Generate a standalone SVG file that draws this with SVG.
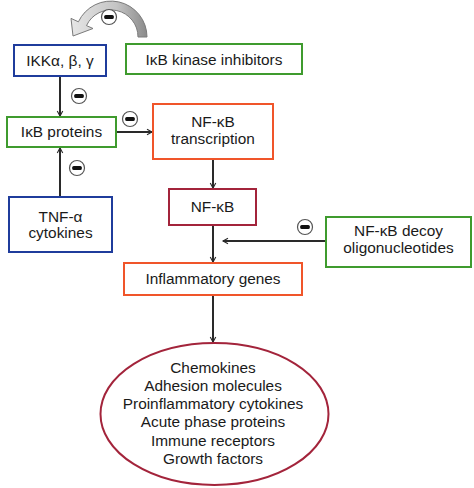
<svg xmlns="http://www.w3.org/2000/svg" width="474" height="488" viewBox="0 0 474 488">
<style>
text{font-family:"Liberation Sans",Arial,sans-serif;font-size:15.4px;fill:#1a1a1a;text-anchor:middle}
.box{fill:#fff;stroke-width:2}
.blue{stroke:#1f3c9c}
.green{stroke:#3f9b2e}
.orange{stroke:#f0552a}
.dred{stroke:#a3243b}
.conn{stroke:#2a2a2a;stroke-width:2;fill:none;marker-end:url(#ah)}
</style>
<defs>
<marker id="ah" viewBox="0 0 12 12" refX="11" refY="6" markerWidth="6" markerHeight="6" markerUnits="userSpaceOnUse" orient="auto" overflow="visible">
<path d="M1,0.5 L11,6 L1,11.5" fill="none" stroke="#2a2a2a" stroke-width="2.2"/>
</marker>
<linearGradient id="gg" x1="0" y1="0" x2="1" y2="0">
<stop offset="0" stop-color="#e6e6e6"/>
<stop offset="0.6" stop-color="#c4c4c4"/>
<stop offset="1" stop-color="#8a8a8a"/>
</linearGradient>
<g id="minus">
<circle r="7.5" fill="#fff" stroke="#555" stroke-width="1.2"/>
<rect x="-4.8" y="-1.9" width="9.6" height="3.8" rx="1.5" fill="#111"/>
</g>
</defs>
<rect width="474" height="488" fill="#fff"/>

<g id="feedback">
<path d="M147,37 A36,36 0 0 0 78.4,21.8 L71,18.4 L73,36 L93,28.5 L86.5,25.6 A27,27 0 0 1 138,37 Z" fill="url(#gg)" stroke="#7a7a7a" stroke-width="1"/>
</g>

<g id="connectors">
<line class="conn" x1="60" y1="76" x2="60" y2="116"/>
<line class="conn" x1="116" y1="132" x2="152" y2="132"/>
<line class="conn" x1="60" y1="197" x2="60" y2="148"/>
<line class="conn" x1="213" y1="159" x2="213" y2="188"/>
<line class="conn" x1="213" y1="225" x2="213" y2="262"/>
<line class="conn" x1="326" y1="241" x2="223" y2="241"/>
<line class="conn" x1="213" y1="295" x2="213" y2="342"/>
</g>

<g id="inhibition-marks">
<use href="#minus" x="109" y="17"/>
<use href="#minus" x="79" y="96"/>
<use href="#minus" x="130" y="119"/>
<use href="#minus" x="77" y="168"/>
<use href="#minus" x="305" y="227"/>
</g>

<g id="ikk">
<rect class="box blue" x="14" y="45" width="92" height="31"/>
<text x="60" y="66">IKKα, β, γ</text>
</g>
<g id="ikb-kinase-inhibitors">
<rect class="box green" x="126" y="44" width="176" height="30"/>
<text x="214" y="65">IκB kinase inhibitors</text>
</g>
<g id="ikb-proteins">
<rect class="box green" x="7" y="117" width="109" height="30"/>
<text x="61.5" y="137">IκB proteins</text>
</g>
<g id="nfkb-transcription">
<rect class="box orange" x="153" y="104" width="120" height="55"/>
<text x="213" y="127">NF-κB</text>
<text x="213" y="144">transcription</text>
</g>
<g id="tnf">
<rect class="box blue" x="9" y="197" width="103" height="55"/>
<text x="60.5" y="222">TNF-α</text>
<text x="60.5" y="238">cytokines</text>
</g>
<g id="nfkb">
<rect class="box dred" x="169" y="189" width="87" height="36"/>
<text x="212.5" y="212">NF-κB</text>
</g>
<g id="decoy">
<rect class="box green" x="326" y="217" width="145" height="50"/>
<text x="398.5" y="236">NF-κB decoy</text>
<text x="398.5" y="253">oligonucleotides</text>
</g>
<g id="inflammatory-genes">
<rect class="box orange" x="124" y="263" width="178" height="32"/>
<text x="213" y="284">Inflammatory genes</text>
</g>
<g id="products">
<ellipse cx="214.5" cy="414" rx="114" ry="71" fill="#fff" stroke="#a3243b" stroke-width="2"/>
<text x="213" y="373">Chemokines</text>
<text x="213" y="391">Adhesion molecules</text>
<text x="213" y="409">Proinflammatory cytokines</text>
<text x="213" y="427">Acute phase proteins</text>
<text x="213" y="446">Immune receptors</text>
<text x="213" y="464">Growth factors</text>
</g>
</svg>
